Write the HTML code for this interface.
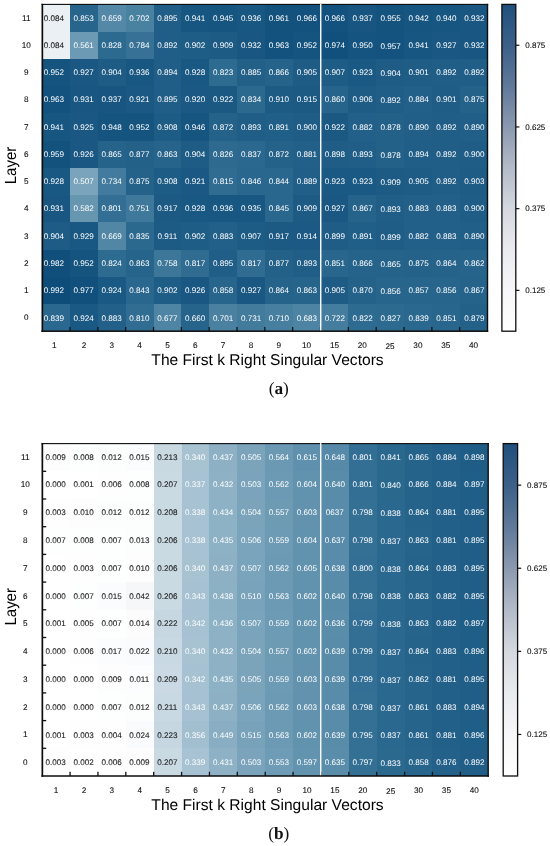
<!DOCTYPE html>
<html lang="en">
<head>
<meta charset="utf-8">
<title>Heatmaps of the first k right singular vectors per layer</title>
<style>
html,body{margin:0;padding:0;background:#fff;}
body{width:550px;height:846px;overflow:hidden;}
svg{display:block;}
text{font-family:"Liberation Sans",sans-serif;text-rendering:geometricPrecision;}
.v{font-size:8.1px;text-anchor:middle;}
.t{font-size:8.2px;text-anchor:middle;fill:#0a0a0a;stroke:#0a0a0a;stroke-width:0.08px;}
.c{font-size:8px;text-anchor:start;fill:#0a0a0a;stroke:#0a0a0a;stroke-width:0.08px;}
.ax{font-size:15.6px;text-anchor:middle;fill:#000;}
.k{stroke:#1c1c1c;stroke-width:0.1px;}
.ay{font-size:16.1px;}
.cap{font-family:"Liberation Serif","DejaVu Serif",serif;font-size:17.3px;text-anchor:middle;fill:#111;}
</style>
</head>
<body>
<svg width="550" height="846" viewBox="0 0 550 846">
<defs>
<linearGradient id="cb" x1="0" y1="1" x2="0" y2="0">
<stop offset="0" stop-color="#ffffff"/>
<stop offset="0.125" stop-color="#f7f7f9"/>
<stop offset="0.25" stop-color="#eaebef"/>
<stop offset="0.375" stop-color="#d4d8df"/>
<stop offset="0.5" stop-color="#b3bbc9"/>
<stop offset="0.625" stop-color="#8b99af"/>
<stop offset="0.75" stop-color="#60799a"/>
<stop offset="0.875" stop-color="#3c6089"/>
<stop offset="1" stop-color="#1f507d"/>
</linearGradient>
</defs>
<rect width="550" height="846" fill="#ffffff"/>
<g id="chart-a">
<rect x="42" y="4" width="28" height="28" fill="#eaf0f4"/>
<rect x="70" y="4" width="28" height="28" fill="#28658d"/>
<rect x="98" y="4" width="28" height="28" fill="#5488a7"/>
<rect x="126" y="4" width="28" height="28" fill="#4981a1"/>
<rect x="154" y="4" width="27" height="28" fill="#205e87"/>
<rect x="181" y="4" width="28" height="28" fill="#175681"/>
<rect x="209" y="4" width="28" height="28" fill="#165580"/>
<rect x="237" y="4" width="28" height="28" fill="#185782"/>
<rect x="265" y="4" width="28" height="28" fill="#14527e"/>
<rect x="293" y="4" width="28" height="28" fill="#13517e"/>
<rect x="321" y="4" width="27" height="28" fill="#13517e"/>
<rect x="348" y="4" width="28" height="28" fill="#185681"/>
<rect x="376" y="4" width="28" height="28" fill="#15537f"/>
<rect x="404" y="4" width="28" height="28" fill="#175581"/>
<rect x="432" y="4" width="28" height="28" fill="#175681"/>
<rect x="460" y="4" width="28" height="28" fill="#195782"/>
<rect x="42" y="32" width="28" height="27" fill="#eaf0f4"/>
<rect x="70" y="32" width="28" height="27" fill="#6c9ab4"/>
<rect x="98" y="32" width="28" height="27" fill="#2d6a90"/>
<rect x="126" y="32" width="28" height="27" fill="#377296"/>
<rect x="154" y="32" width="27" height="27" fill="#205e87"/>
<rect x="181" y="32" width="28" height="27" fill="#1e5d86"/>
<rect x="209" y="32" width="28" height="27" fill="#1d5b85"/>
<rect x="237" y="32" width="28" height="27" fill="#195782"/>
<rect x="265" y="32" width="28" height="27" fill="#13527e"/>
<rect x="293" y="32" width="28" height="27" fill="#15547f"/>
<rect x="321" y="32" width="27" height="27" fill="#11507c"/>
<rect x="348" y="32" width="28" height="27" fill="#155480"/>
<rect x="376" y="32" width="28" height="27" fill="#14537f"/>
<rect x="404" y="32" width="28" height="27" fill="#175681"/>
<rect x="432" y="32" width="28" height="27" fill="#1a5883"/>
<rect x="460" y="32" width="28" height="27" fill="#195782"/>
<rect x="42" y="59" width="28" height="27" fill="#15547f"/>
<rect x="70" y="59" width="28" height="27" fill="#1a5883"/>
<rect x="98" y="59" width="28" height="27" fill="#1e5c86"/>
<rect x="126" y="59" width="28" height="27" fill="#185782"/>
<rect x="154" y="59" width="27" height="27" fill="#205e87"/>
<rect x="181" y="59" width="28" height="27" fill="#195883"/>
<rect x="209" y="59" width="28" height="27" fill="#2e6b91"/>
<rect x="237" y="59" width="28" height="27" fill="#226088"/>
<rect x="265" y="59" width="28" height="27" fill="#25638b"/>
<rect x="293" y="59" width="28" height="27" fill="#1e5c86"/>
<rect x="321" y="59" width="27" height="27" fill="#1d5c85"/>
<rect x="348" y="59" width="28" height="27" fill="#1a5983"/>
<rect x="376" y="59" width="28" height="27" fill="#1e5c86"/>
<rect x="404" y="59" width="28" height="27" fill="#1f5d86"/>
<rect x="432" y="59" width="28" height="27" fill="#205e87"/>
<rect x="460" y="59" width="28" height="27" fill="#205e87"/>
<rect x="42" y="86" width="28" height="27" fill="#13527e"/>
<rect x="70" y="86" width="28" height="27" fill="#195782"/>
<rect x="98" y="86" width="28" height="27" fill="#185681"/>
<rect x="126" y="86" width="28" height="27" fill="#1b5984"/>
<rect x="154" y="86" width="27" height="27" fill="#205e87"/>
<rect x="181" y="86" width="28" height="27" fill="#1b5984"/>
<rect x="209" y="86" width="28" height="27" fill="#1b5983"/>
<rect x="237" y="86" width="28" height="27" fill="#2c698f"/>
<rect x="265" y="86" width="28" height="27" fill="#1d5b85"/>
<rect x="293" y="86" width="28" height="27" fill="#1c5a84"/>
<rect x="321" y="86" width="27" height="27" fill="#27648c"/>
<rect x="348" y="86" width="28" height="27" fill="#1e5c86"/>
<rect x="376" y="86" width="28" height="27" fill="#205e87"/>
<rect x="404" y="86" width="28" height="27" fill="#226089"/>
<rect x="432" y="86" width="28" height="27" fill="#1f5d86"/>
<rect x="460" y="86" width="28" height="27" fill="#24628a"/>
<rect x="42" y="113" width="28" height="28" fill="#175681"/>
<rect x="70" y="113" width="28" height="28" fill="#1a5883"/>
<rect x="98" y="113" width="28" height="28" fill="#165480"/>
<rect x="126" y="113" width="28" height="28" fill="#15547f"/>
<rect x="154" y="113" width="27" height="28" fill="#1d5c85"/>
<rect x="181" y="113" width="28" height="28" fill="#165580"/>
<rect x="209" y="113" width="28" height="28" fill="#24628a"/>
<rect x="237" y="113" width="28" height="28" fill="#205e87"/>
<rect x="265" y="113" width="28" height="28" fill="#205f88"/>
<rect x="293" y="113" width="28" height="28" fill="#1f5d86"/>
<rect x="321" y="113" width="27" height="28" fill="#1b5983"/>
<rect x="348" y="113" width="28" height="28" fill="#226089"/>
<rect x="376" y="113" width="28" height="28" fill="#236189"/>
<rect x="404" y="113" width="28" height="28" fill="#215f88"/>
<rect x="432" y="113" width="28" height="28" fill="#205e87"/>
<rect x="460" y="113" width="28" height="28" fill="#215f88"/>
<rect x="42" y="141" width="28" height="27" fill="#14527e"/>
<rect x="70" y="141" width="28" height="27" fill="#1a5883"/>
<rect x="98" y="141" width="28" height="27" fill="#26638b"/>
<rect x="126" y="141" width="28" height="27" fill="#236189"/>
<rect x="154" y="141" width="27" height="27" fill="#26648b"/>
<rect x="181" y="141" width="28" height="27" fill="#1e5c86"/>
<rect x="209" y="141" width="28" height="27" fill="#2e6a90"/>
<rect x="237" y="141" width="28" height="27" fill="#2b688f"/>
<rect x="265" y="141" width="28" height="27" fill="#24628a"/>
<rect x="293" y="141" width="28" height="27" fill="#226089"/>
<rect x="321" y="141" width="27" height="27" fill="#1f5d87"/>
<rect x="348" y="141" width="28" height="27" fill="#205e87"/>
<rect x="376" y="141" width="28" height="27" fill="#236189"/>
<rect x="404" y="141" width="28" height="27" fill="#205e87"/>
<rect x="432" y="141" width="28" height="27" fill="#205e87"/>
<rect x="460" y="141" width="28" height="27" fill="#1f5d86"/>
<rect x="42" y="168" width="28" height="27" fill="#195883"/>
<rect x="70" y="168" width="28" height="27" fill="#7aa4bb"/>
<rect x="98" y="168" width="28" height="27" fill="#427b9d"/>
<rect x="126" y="168" width="28" height="27" fill="#24628a"/>
<rect x="154" y="168" width="27" height="27" fill="#1d5c85"/>
<rect x="181" y="168" width="28" height="27" fill="#1b5984"/>
<rect x="209" y="168" width="28" height="27" fill="#306c92"/>
<rect x="237" y="168" width="28" height="27" fill="#29678e"/>
<rect x="265" y="168" width="28" height="27" fill="#2a678e"/>
<rect x="293" y="168" width="28" height="27" fill="#215f88"/>
<rect x="321" y="168" width="27" height="27" fill="#1a5983"/>
<rect x="348" y="168" width="28" height="27" fill="#1a5983"/>
<rect x="376" y="168" width="28" height="27" fill="#1d5b85"/>
<rect x="404" y="168" width="28" height="27" fill="#1e5c86"/>
<rect x="432" y="168" width="28" height="27" fill="#205e87"/>
<rect x="460" y="168" width="28" height="27" fill="#1e5c86"/>
<rect x="42" y="195" width="28" height="27" fill="#195782"/>
<rect x="70" y="195" width="28" height="27" fill="#6796b1"/>
<rect x="98" y="195" width="28" height="27" fill="#336f94"/>
<rect x="126" y="195" width="28" height="27" fill="#3e789a"/>
<rect x="154" y="195" width="27" height="27" fill="#1c5a84"/>
<rect x="181" y="195" width="28" height="27" fill="#195883"/>
<rect x="209" y="195" width="28" height="27" fill="#185782"/>
<rect x="237" y="195" width="28" height="27" fill="#185782"/>
<rect x="265" y="195" width="28" height="27" fill="#2a678e"/>
<rect x="293" y="195" width="28" height="27" fill="#1d5b85"/>
<rect x="321" y="195" width="27" height="27" fill="#1a5883"/>
<rect x="348" y="195" width="28" height="27" fill="#25638b"/>
<rect x="376" y="195" width="28" height="27" fill="#205e87"/>
<rect x="404" y="195" width="28" height="27" fill="#226089"/>
<rect x="432" y="195" width="28" height="27" fill="#226089"/>
<rect x="460" y="195" width="28" height="27" fill="#1f5d86"/>
<rect x="42" y="222" width="28" height="28" fill="#1e5c86"/>
<rect x="70" y="222" width="28" height="28" fill="#195883"/>
<rect x="98" y="222" width="28" height="28" fill="#5187a5"/>
<rect x="126" y="222" width="28" height="28" fill="#2c698f"/>
<rect x="154" y="222" width="27" height="28" fill="#1d5b85"/>
<rect x="181" y="222" width="28" height="28" fill="#1e5d86"/>
<rect x="209" y="222" width="28" height="28" fill="#226089"/>
<rect x="237" y="222" width="28" height="28" fill="#1d5c85"/>
<rect x="265" y="222" width="28" height="28" fill="#1c5a84"/>
<rect x="293" y="222" width="28" height="28" fill="#1c5a85"/>
<rect x="321" y="222" width="27" height="28" fill="#1f5d87"/>
<rect x="348" y="222" width="28" height="28" fill="#205f88"/>
<rect x="376" y="222" width="28" height="28" fill="#1f5d87"/>
<rect x="404" y="222" width="28" height="28" fill="#226089"/>
<rect x="432" y="222" width="28" height="28" fill="#226089"/>
<rect x="460" y="222" width="28" height="28" fill="#215f88"/>
<rect x="42" y="250" width="28" height="27" fill="#104e7b"/>
<rect x="70" y="250" width="28" height="27" fill="#15547f"/>
<rect x="98" y="250" width="28" height="27" fill="#2e6b91"/>
<rect x="126" y="250" width="28" height="27" fill="#26648b"/>
<rect x="154" y="250" width="27" height="27" fill="#3c7799"/>
<rect x="181" y="250" width="28" height="27" fill="#306c92"/>
<rect x="209" y="250" width="28" height="27" fill="#205e87"/>
<rect x="237" y="250" width="28" height="27" fill="#306c92"/>
<rect x="265" y="250" width="28" height="27" fill="#236189"/>
<rect x="293" y="250" width="28" height="27" fill="#205e87"/>
<rect x="321" y="250" width="27" height="27" fill="#28668d"/>
<rect x="348" y="250" width="28" height="27" fill="#25638b"/>
<rect x="376" y="250" width="28" height="27" fill="#26638b"/>
<rect x="404" y="250" width="28" height="27" fill="#24628a"/>
<rect x="432" y="250" width="28" height="27" fill="#26638b"/>
<rect x="460" y="250" width="28" height="27" fill="#26648b"/>
<rect x="42" y="277" width="28" height="27" fill="#0e4c7a"/>
<rect x="70" y="277" width="28" height="27" fill="#114f7c"/>
<rect x="98" y="277" width="28" height="27" fill="#1a5983"/>
<rect x="126" y="277" width="28" height="27" fill="#2a678e"/>
<rect x="154" y="277" width="27" height="27" fill="#1e5d86"/>
<rect x="181" y="277" width="28" height="27" fill="#1a5883"/>
<rect x="209" y="277" width="28" height="27" fill="#27658c"/>
<rect x="237" y="277" width="28" height="27" fill="#1a5883"/>
<rect x="265" y="277" width="28" height="27" fill="#26638b"/>
<rect x="293" y="277" width="28" height="27" fill="#26648b"/>
<rect x="321" y="277" width="27" height="27" fill="#1e5c86"/>
<rect x="348" y="277" width="28" height="27" fill="#25628a"/>
<rect x="376" y="277" width="28" height="27" fill="#27658c"/>
<rect x="404" y="277" width="28" height="27" fill="#27658c"/>
<rect x="432" y="277" width="28" height="27" fill="#27658c"/>
<rect x="460" y="277" width="28" height="27" fill="#25638b"/>
<rect x="42" y="304" width="28" height="27" fill="#2b688f"/>
<rect x="70" y="304" width="28" height="27" fill="#1a5983"/>
<rect x="98" y="304" width="28" height="27" fill="#226089"/>
<rect x="126" y="304" width="28" height="27" fill="#316d92"/>
<rect x="154" y="304" width="27" height="27" fill="#4f85a4"/>
<rect x="181" y="304" width="28" height="27" fill="#27648c"/>
<rect x="209" y="304" width="28" height="27" fill="#4a81a1"/>
<rect x="237" y="304" width="28" height="27" fill="#437b9d"/>
<rect x="265" y="304" width="28" height="27" fill="#477fa0"/>
<rect x="293" y="304" width="28" height="27" fill="#4e84a3"/>
<rect x="321" y="304" width="27" height="27" fill="#457d9e"/>
<rect x="348" y="304" width="28" height="27" fill="#2e6b91"/>
<rect x="376" y="304" width="28" height="27" fill="#2d6a90"/>
<rect x="404" y="304" width="28" height="27" fill="#2b688f"/>
<rect x="432" y="304" width="28" height="27" fill="#28668d"/>
<rect x="460" y="304" width="28" height="27" fill="#236189"/>
<text class="v k" x="53.8" y="20.6" fill="#1c1c1c">0.084</text>
<text class="v" x="83.61" y="20.6" fill="#ffffff">0.853</text>
<text class="v" x="111.52" y="20.6" fill="#ffffff">0.659</text>
<text class="v" x="139.43" y="20.6" fill="#ffffff">0.702</text>
<text class="v" x="167.34" y="20.6" fill="#ffffff">0.895</text>
<text class="v" x="195.25" y="20.6" fill="#ffffff">0.941</text>
<text class="v" x="223.16" y="20.6" fill="#ffffff">0.945</text>
<text class="v" x="251.07" y="20.6" fill="#ffffff">0.936</text>
<text class="v" x="278.98" y="20.6" fill="#ffffff">0.961</text>
<text class="v" x="306.89" y="20.6" fill="#ffffff">0.966</text>
<text class="v" x="334.8" y="20.6" fill="#ffffff">0.966</text>
<text class="v" x="362.71" y="20.6" fill="#ffffff">0.937</text>
<text class="v" x="390.62" y="21.4" fill="#ffffff">0.955</text>
<text class="v" x="418.53" y="20.6" fill="#ffffff">0.942</text>
<text class="v" x="446.44" y="20.6" fill="#ffffff">0.940</text>
<text class="v" x="474.35" y="20.6" fill="#ffffff">0.932</text>
<text class="v k" x="53.8" y="47.87" fill="#1c1c1c">0.084</text>
<text class="v" x="83.61" y="47.87" fill="#ffffff">0.561</text>
<text class="v" x="111.52" y="47.87" fill="#ffffff">0.828</text>
<text class="v" x="139.43" y="47.87" fill="#ffffff">0.784</text>
<text class="v" x="167.34" y="47.87" fill="#ffffff">0.892</text>
<text class="v" x="195.25" y="47.87" fill="#ffffff">0.902</text>
<text class="v" x="223.16" y="47.87" fill="#ffffff">0.909</text>
<text class="v" x="251.07" y="47.87" fill="#ffffff">0.932</text>
<text class="v" x="278.98" y="47.87" fill="#ffffff">0.963</text>
<text class="v" x="306.89" y="47.87" fill="#ffffff">0.952</text>
<text class="v" x="334.8" y="47.87" fill="#ffffff">0.974</text>
<text class="v" x="362.71" y="47.87" fill="#ffffff">0.950</text>
<text class="v" x="390.62" y="48.67" fill="#ffffff">0.957</text>
<text class="v" x="418.53" y="47.87" fill="#ffffff">0.941</text>
<text class="v" x="446.44" y="47.87" fill="#ffffff">0.927</text>
<text class="v" x="474.35" y="47.87" fill="#ffffff">0.932</text>
<text class="v" x="53.8" y="75.14" fill="#ffffff">0.952</text>
<text class="v" x="83.61" y="75.14" fill="#ffffff">0.927</text>
<text class="v" x="111.52" y="75.14" fill="#ffffff">0.904</text>
<text class="v" x="139.43" y="75.14" fill="#ffffff">0.936</text>
<text class="v" x="167.34" y="75.14" fill="#ffffff">0.894</text>
<text class="v" x="195.25" y="75.14" fill="#ffffff">0.928</text>
<text class="v" x="223.16" y="75.14" fill="#ffffff">0.823</text>
<text class="v" x="251.07" y="75.14" fill="#ffffff">0.885</text>
<text class="v" x="278.98" y="75.14" fill="#ffffff">0.866</text>
<text class="v" x="306.89" y="75.14" fill="#ffffff">0.905</text>
<text class="v" x="334.8" y="75.14" fill="#ffffff">0.907</text>
<text class="v" x="362.71" y="75.14" fill="#ffffff">0.923</text>
<text class="v" x="390.62" y="75.94" fill="#ffffff">0.904</text>
<text class="v" x="418.53" y="75.14" fill="#ffffff">0.901</text>
<text class="v" x="446.44" y="75.14" fill="#ffffff">0.892</text>
<text class="v" x="474.35" y="75.14" fill="#ffffff">0.892</text>
<text class="v" x="53.8" y="102.41" fill="#ffffff">0.963</text>
<text class="v" x="83.61" y="102.41" fill="#ffffff">0.931</text>
<text class="v" x="111.52" y="102.41" fill="#ffffff">0.937</text>
<text class="v" x="139.43" y="102.41" fill="#ffffff">0.921</text>
<text class="v" x="167.34" y="102.41" fill="#ffffff">0.895</text>
<text class="v" x="195.25" y="102.41" fill="#ffffff">0.920</text>
<text class="v" x="223.16" y="102.41" fill="#ffffff">0.922</text>
<text class="v" x="251.07" y="102.41" fill="#ffffff">0.834</text>
<text class="v" x="278.98" y="102.41" fill="#ffffff">0.910</text>
<text class="v" x="306.89" y="102.41" fill="#ffffff">0.915</text>
<text class="v" x="334.8" y="102.41" fill="#ffffff">0.860</text>
<text class="v" x="362.71" y="102.41" fill="#ffffff">0.906</text>
<text class="v" x="390.62" y="103.21" fill="#ffffff">0.892</text>
<text class="v" x="418.53" y="102.41" fill="#ffffff">0.884</text>
<text class="v" x="446.44" y="102.41" fill="#ffffff">0.901</text>
<text class="v" x="474.35" y="102.41" fill="#ffffff">0.875</text>
<text class="v" x="53.8" y="129.68" fill="#ffffff">0.941</text>
<text class="v" x="83.61" y="129.68" fill="#ffffff">0.925</text>
<text class="v" x="111.52" y="129.68" fill="#ffffff">0.948</text>
<text class="v" x="139.43" y="129.68" fill="#ffffff">0.952</text>
<text class="v" x="167.34" y="129.68" fill="#ffffff">0.908</text>
<text class="v" x="195.25" y="129.68" fill="#ffffff">0.946</text>
<text class="v" x="223.16" y="129.68" fill="#ffffff">0.872</text>
<text class="v" x="251.07" y="129.68" fill="#ffffff">0.893</text>
<text class="v" x="278.98" y="129.68" fill="#ffffff">0.891</text>
<text class="v" x="306.89" y="129.68" fill="#ffffff">0.900</text>
<text class="v" x="334.8" y="129.68" fill="#ffffff">0.922</text>
<text class="v" x="362.71" y="129.68" fill="#ffffff">0.882</text>
<text class="v" x="390.62" y="130.48" fill="#ffffff">0.878</text>
<text class="v" x="418.53" y="129.68" fill="#ffffff">0.890</text>
<text class="v" x="446.44" y="129.68" fill="#ffffff">0.892</text>
<text class="v" x="474.35" y="129.68" fill="#ffffff">0.890</text>
<text class="v" x="53.8" y="156.95" fill="#ffffff">0.959</text>
<text class="v" x="83.61" y="156.95" fill="#ffffff">0.926</text>
<text class="v" x="111.52" y="156.95" fill="#ffffff">0.865</text>
<text class="v" x="139.43" y="156.95" fill="#ffffff">0.877</text>
<text class="v" x="167.34" y="156.95" fill="#ffffff">0.863</text>
<text class="v" x="195.25" y="156.95" fill="#ffffff">0.904</text>
<text class="v" x="223.16" y="156.95" fill="#ffffff">0.826</text>
<text class="v" x="251.07" y="156.95" fill="#ffffff">0.837</text>
<text class="v" x="278.98" y="156.95" fill="#ffffff">0.872</text>
<text class="v" x="306.89" y="156.95" fill="#ffffff">0.881</text>
<text class="v" x="334.8" y="156.95" fill="#ffffff">0.898</text>
<text class="v" x="362.71" y="156.95" fill="#ffffff">0.893</text>
<text class="v" x="390.62" y="157.75" fill="#ffffff">0.878</text>
<text class="v" x="418.53" y="156.95" fill="#ffffff">0.894</text>
<text class="v" x="446.44" y="156.95" fill="#ffffff">0.892</text>
<text class="v" x="474.35" y="156.95" fill="#ffffff">0.900</text>
<text class="v" x="53.8" y="184.22" fill="#ffffff">0.928</text>
<text class="v" x="83.61" y="184.22" fill="#ffffff">0.507</text>
<text class="v" x="111.52" y="184.22" fill="#ffffff">0.734</text>
<text class="v" x="139.43" y="184.22" fill="#ffffff">0.875</text>
<text class="v" x="167.34" y="184.22" fill="#ffffff">0.908</text>
<text class="v" x="195.25" y="184.22" fill="#ffffff">0.921</text>
<text class="v" x="223.16" y="184.22" fill="#ffffff">0.815</text>
<text class="v" x="251.07" y="184.22" fill="#ffffff">0.846</text>
<text class="v" x="278.98" y="184.22" fill="#ffffff">0.844</text>
<text class="v" x="306.89" y="184.22" fill="#ffffff">0.889</text>
<text class="v" x="334.8" y="184.22" fill="#ffffff">0.923</text>
<text class="v" x="362.71" y="184.22" fill="#ffffff">0.923</text>
<text class="v" x="390.62" y="185.02" fill="#ffffff">0.909</text>
<text class="v" x="418.53" y="184.22" fill="#ffffff">0.905</text>
<text class="v" x="446.44" y="184.22" fill="#ffffff">0.892</text>
<text class="v" x="474.35" y="184.22" fill="#ffffff">0.903</text>
<text class="v" x="53.8" y="211.49" fill="#ffffff">0.931</text>
<text class="v" x="83.61" y="211.49" fill="#ffffff">0.582</text>
<text class="v" x="111.52" y="211.49" fill="#ffffff">0.801</text>
<text class="v" x="139.43" y="211.49" fill="#ffffff">0.751</text>
<text class="v" x="167.34" y="211.49" fill="#ffffff">0.917</text>
<text class="v" x="195.25" y="211.49" fill="#ffffff">0.928</text>
<text class="v" x="223.16" y="211.49" fill="#ffffff">0.936</text>
<text class="v" x="251.07" y="211.49" fill="#ffffff">0.935</text>
<text class="v" x="278.98" y="211.49" fill="#ffffff">0.845</text>
<text class="v" x="306.89" y="211.49" fill="#ffffff">0.909</text>
<text class="v" x="334.8" y="211.49" fill="#ffffff">0.927</text>
<text class="v" x="362.71" y="211.49" fill="#ffffff">0.867</text>
<text class="v" x="390.62" y="212.29" fill="#ffffff">0.893</text>
<text class="v" x="418.53" y="211.49" fill="#ffffff">0.883</text>
<text class="v" x="446.44" y="211.49" fill="#ffffff">0.883</text>
<text class="v" x="474.35" y="211.49" fill="#ffffff">0.900</text>
<text class="v" x="53.8" y="238.76" fill="#ffffff">0.904</text>
<text class="v" x="83.61" y="238.76" fill="#ffffff">0.929</text>
<text class="v" x="111.52" y="238.76" fill="#ffffff">0.669</text>
<text class="v" x="139.43" y="238.76" fill="#ffffff">0.835</text>
<text class="v" x="167.34" y="238.76" fill="#ffffff">0.911</text>
<text class="v" x="195.25" y="238.76" fill="#ffffff">0.902</text>
<text class="v" x="223.16" y="238.76" fill="#ffffff">0.883</text>
<text class="v" x="251.07" y="238.76" fill="#ffffff">0.907</text>
<text class="v" x="278.98" y="238.76" fill="#ffffff">0.917</text>
<text class="v" x="306.89" y="238.76" fill="#ffffff">0.914</text>
<text class="v" x="334.8" y="238.76" fill="#ffffff">0.899</text>
<text class="v" x="362.71" y="238.76" fill="#ffffff">0.891</text>
<text class="v" x="390.62" y="239.56" fill="#ffffff">0.899</text>
<text class="v" x="418.53" y="238.76" fill="#ffffff">0.882</text>
<text class="v" x="446.44" y="238.76" fill="#ffffff">0.883</text>
<text class="v" x="474.35" y="238.76" fill="#ffffff">0.890</text>
<text class="v" x="53.8" y="266.03" fill="#ffffff">0.982</text>
<text class="v" x="83.61" y="266.03" fill="#ffffff">0.952</text>
<text class="v" x="111.52" y="266.03" fill="#ffffff">0.824</text>
<text class="v" x="139.43" y="266.03" fill="#ffffff">0.863</text>
<text class="v" x="167.34" y="266.03" fill="#ffffff">0.758</text>
<text class="v" x="195.25" y="266.03" fill="#ffffff">0.817</text>
<text class="v" x="223.16" y="266.03" fill="#ffffff">0.895</text>
<text class="v" x="251.07" y="266.03" fill="#ffffff">0.817</text>
<text class="v" x="278.98" y="266.03" fill="#ffffff">0.877</text>
<text class="v" x="306.89" y="266.03" fill="#ffffff">0.893</text>
<text class="v" x="334.8" y="266.03" fill="#ffffff">0.851</text>
<text class="v" x="362.71" y="266.03" fill="#ffffff">0.866</text>
<text class="v" x="390.62" y="266.83" fill="#ffffff">0.865</text>
<text class="v" x="418.53" y="266.03" fill="#ffffff">0.875</text>
<text class="v" x="446.44" y="266.03" fill="#ffffff">0.864</text>
<text class="v" x="474.35" y="266.03" fill="#ffffff">0.862</text>
<text class="v" x="53.8" y="293.3" fill="#ffffff">0.992</text>
<text class="v" x="83.61" y="293.3" fill="#ffffff">0.977</text>
<text class="v" x="111.52" y="293.3" fill="#ffffff">0.924</text>
<text class="v" x="139.43" y="293.3" fill="#ffffff">0.843</text>
<text class="v" x="167.34" y="293.3" fill="#ffffff">0.902</text>
<text class="v" x="195.25" y="293.3" fill="#ffffff">0.926</text>
<text class="v" x="223.16" y="293.3" fill="#ffffff">0.858</text>
<text class="v" x="251.07" y="293.3" fill="#ffffff">0.927</text>
<text class="v" x="278.98" y="293.3" fill="#ffffff">0.864</text>
<text class="v" x="306.89" y="293.3" fill="#ffffff">0.863</text>
<text class="v" x="334.8" y="293.3" fill="#ffffff">0.905</text>
<text class="v" x="362.71" y="293.3" fill="#ffffff">0.870</text>
<text class="v" x="390.62" y="294.1" fill="#ffffff">0.856</text>
<text class="v" x="418.53" y="293.3" fill="#ffffff">0.857</text>
<text class="v" x="446.44" y="293.3" fill="#ffffff">0.856</text>
<text class="v" x="474.35" y="293.3" fill="#ffffff">0.867</text>
<text class="v" x="53.8" y="320.57" fill="#ffffff">0.839</text>
<text class="v" x="83.61" y="320.57" fill="#ffffff">0.924</text>
<text class="v" x="111.52" y="320.57" fill="#ffffff">0.883</text>
<text class="v" x="139.43" y="320.57" fill="#ffffff">0.810</text>
<text class="v" x="167.34" y="320.57" fill="#ffffff">0.677</text>
<text class="v" x="195.25" y="320.57" fill="#ffffff">0.660</text>
<text class="v" x="223.16" y="320.57" fill="#ffffff">0.701</text>
<text class="v" x="251.07" y="320.57" fill="#ffffff">0.731</text>
<text class="v" x="278.98" y="320.57" fill="#ffffff">0.710</text>
<text class="v" x="306.89" y="320.57" fill="#ffffff">0.683</text>
<text class="v" x="334.8" y="320.57" fill="#ffffff">0.722</text>
<text class="v" x="362.71" y="320.57" fill="#ffffff">0.822</text>
<text class="v" x="390.62" y="321.37" fill="#ffffff">0.827</text>
<text class="v" x="418.53" y="320.57" fill="#ffffff">0.839</text>
<text class="v" x="446.44" y="320.57" fill="#ffffff">0.851</text>
<text class="v" x="474.35" y="320.57" fill="#ffffff">0.879</text>
<rect x="69.38" y="327" width="1.3" height="4.2" fill="#111"/>
<rect x="97.21" y="327" width="1.3" height="4.2" fill="#111"/>
<rect x="125.04" y="327" width="1.3" height="4.2" fill="#111"/>
<rect x="152.88" y="327" width="1.3" height="4.2" fill="#111"/>
<rect x="180.71" y="327" width="1.3" height="4.2" fill="#111"/>
<rect x="208.54" y="327" width="1.3" height="4.2" fill="#111"/>
<rect x="236.37" y="327" width="1.3" height="4.2" fill="#111"/>
<rect x="264.2" y="327" width="1.3" height="4.2" fill="#111"/>
<rect x="292.03" y="327" width="1.3" height="4.2" fill="#111"/>
<rect x="319.86" y="327" width="1.3" height="4.2" fill="#111"/>
<rect x="347.69" y="327" width="1.3" height="4.2" fill="#111"/>
<rect x="375.53" y="327" width="1.3" height="4.2" fill="#111"/>
<rect x="403.36" y="327" width="1.3" height="4.2" fill="#111"/>
<rect x="431.19" y="327" width="1.3" height="4.2" fill="#111"/>
<rect x="459.02" y="327" width="1.3" height="4.2" fill="#111"/>
<rect x="41.4" y="3.85" width="446.8" height="1.1" fill="#0d0d0d"/>
<rect x="41.4" y="330.45" width="446.8" height="1.5" fill="#0d0d0d"/>
<rect x="41.5" y="3.85" width="1.7" height="328.1" fill="#0d0d0d"/>
<rect x="486.8" y="3.85" width="1.4" height="328.1" fill="#0d0d0d"/>
<rect x="320" y="3.85" width="1.45" height="326.6" fill="#f8f5f5"/>
<text class="t" x="54.22" y="347.9">1</text>
<text class="t" x="83.95" y="347.9">2</text>
<text class="t" x="111.78" y="347.9">3</text>
<text class="t" x="139.61" y="347.9">4</text>
<text class="t" x="167.44" y="347.9">5</text>
<text class="t" x="195.27" y="347.9">6</text>
<text class="t" x="223.1" y="347.9">7</text>
<text class="t" x="250.93" y="347.9">8</text>
<text class="t" x="278.77" y="347.9">9</text>
<text class="t" x="306.6" y="347.9">10</text>
<text class="t" x="334.43" y="347.9">15</text>
<text class="t" x="362.26" y="347.9">20</text>
<text class="t" x="390.09" y="348.7">25</text>
<text class="t" x="417.92" y="347.9">30</text>
<text class="t" x="445.75" y="347.9">35</text>
<text class="t" x="473.58" y="347.9">40</text>
<text class="t" x="26.2" y="20.5">11</text>
<text class="t" x="26.2" y="47.77">10</text>
<text class="t" x="26.2" y="75.04">9</text>
<text class="t" x="26.2" y="102.31">8</text>
<text class="t" x="26.2" y="129.58">7</text>
<text class="t" x="26.2" y="156.85">6</text>
<text class="t" x="26.2" y="184.12">5</text>
<text class="t" x="26.2" y="211.39">4</text>
<text class="t" x="26.2" y="238.66">3</text>
<text class="t" x="26.2" y="265.93">2</text>
<text class="t" x="26.2" y="293.2">1</text>
<text class="t" x="26.2" y="320.47">0</text>
<text class="ax" x="267.5" y="364.8">The First k Right Singular Vectors</text>
<text class="ax ay" transform="translate(16.3 165.5) rotate(-90) scale(0.93 1)" x="0" y="0">Layer</text>
<rect x="501.9" y="4.4" width="13.9" height="326.8" fill="url(#cb)" stroke="#0d0d0d" stroke-width="1.3"/>
<rect x="515.8" y="44.65" width="3.6" height="1.2" fill="#111"/>
<text class="c" x="525.3" y="48.05">0.875</text>
<rect x="515.8" y="126.35" width="3.6" height="1.2" fill="#111"/>
<text class="c" x="525.3" y="129.75">0.625</text>
<rect x="515.8" y="208.05" width="3.6" height="1.2" fill="#111"/>
<text class="c" x="525.3" y="211.45">0.375</text>
<rect x="515.8" y="289.75" width="3.6" height="1.2" fill="#111"/>
<text class="c" x="525.3" y="293.15">0.125</text>
<text class="cap" x="278.8" y="394">(<tspan font-weight="bold">a</tspan>)</text>
</g>
<g id="chart-b">
<rect x="42" y="444" width="28" height="27" fill="#fdfdfe"/>
<rect x="70" y="444" width="28" height="27" fill="#fdfefe"/>
<rect x="98" y="444" width="28" height="27" fill="#fcfdfd"/>
<rect x="126" y="444" width="28" height="27" fill="#fbfcfd"/>
<rect x="154" y="444" width="28" height="27" fill="#c9d9e2"/>
<rect x="182" y="444" width="27" height="27" fill="#a7c2d1"/>
<rect x="209" y="444" width="28" height="27" fill="#8db0c4"/>
<rect x="237" y="444" width="28" height="27" fill="#7ba4bb"/>
<rect x="265" y="444" width="28" height="27" fill="#6b99b3"/>
<rect x="293" y="444" width="28" height="27" fill="#5f90ad"/>
<rect x="321" y="444" width="28" height="27" fill="#568aa8"/>
<rect x="349" y="444" width="28" height="27" fill="#336f94"/>
<rect x="377" y="444" width="28" height="27" fill="#2a688e"/>
<rect x="405" y="444" width="27" height="27" fill="#26638b"/>
<rect x="432" y="444" width="28" height="27" fill="#226089"/>
<rect x="460" y="444" width="28" height="27" fill="#1f5d87"/>
<rect x="42" y="471" width="28" height="28" fill="#ffffff"/>
<rect x="70" y="471" width="28" height="28" fill="#ffffff"/>
<rect x="98" y="471" width="28" height="28" fill="#fefefe"/>
<rect x="126" y="471" width="28" height="28" fill="#fdfefe"/>
<rect x="154" y="471" width="28" height="28" fill="#cadae3"/>
<rect x="182" y="471" width="27" height="28" fill="#a7c2d2"/>
<rect x="209" y="471" width="28" height="28" fill="#8eb1c5"/>
<rect x="237" y="471" width="28" height="28" fill="#7ba4bc"/>
<rect x="265" y="471" width="28" height="28" fill="#6c9ab4"/>
<rect x="293" y="471" width="28" height="28" fill="#6192ae"/>
<rect x="321" y="471" width="28" height="28" fill="#588ca9"/>
<rect x="349" y="471" width="28" height="28" fill="#336f94"/>
<rect x="377" y="471" width="28" height="28" fill="#2b688e"/>
<rect x="405" y="471" width="27" height="28" fill="#25638b"/>
<rect x="432" y="471" width="28" height="28" fill="#226089"/>
<rect x="460" y="471" width="28" height="28" fill="#1f5e87"/>
<rect x="42" y="499" width="28" height="28" fill="#fefeff"/>
<rect x="70" y="499" width="28" height="28" fill="#fdfdfe"/>
<rect x="98" y="499" width="28" height="28" fill="#fcfdfd"/>
<rect x="126" y="499" width="28" height="28" fill="#fcfdfd"/>
<rect x="154" y="499" width="28" height="28" fill="#cadae3"/>
<rect x="182" y="499" width="27" height="28" fill="#a7c2d2"/>
<rect x="209" y="499" width="28" height="28" fill="#8db1c5"/>
<rect x="237" y="499" width="28" height="28" fill="#7ba4bb"/>
<rect x="265" y="499" width="28" height="28" fill="#6d9bb4"/>
<rect x="293" y="499" width="28" height="28" fill="#6292ae"/>
<rect x="321" y="499" width="28" height="28" fill="#598caa"/>
<rect x="349" y="499" width="28" height="28" fill="#346f94"/>
<rect x="377" y="499" width="28" height="28" fill="#2b688f"/>
<rect x="405" y="499" width="27" height="28" fill="#26638b"/>
<rect x="432" y="499" width="28" height="28" fill="#226089"/>
<rect x="460" y="499" width="28" height="28" fill="#205e87"/>
<rect x="42" y="527" width="28" height="27" fill="#fdfefe"/>
<rect x="70" y="527" width="28" height="27" fill="#fdfefe"/>
<rect x="98" y="527" width="28" height="27" fill="#fdfefe"/>
<rect x="126" y="527" width="28" height="27" fill="#fcfdfd"/>
<rect x="154" y="527" width="28" height="27" fill="#cadae3"/>
<rect x="182" y="527" width="27" height="27" fill="#a7c2d2"/>
<rect x="209" y="527" width="28" height="27" fill="#8db1c5"/>
<rect x="237" y="527" width="28" height="27" fill="#7aa4bb"/>
<rect x="265" y="527" width="28" height="27" fill="#6d9ab4"/>
<rect x="293" y="527" width="28" height="27" fill="#6192ae"/>
<rect x="321" y="527" width="28" height="27" fill="#598caa"/>
<rect x="349" y="527" width="28" height="27" fill="#346f94"/>
<rect x="377" y="527" width="28" height="27" fill="#2b688f"/>
<rect x="405" y="527" width="27" height="27" fill="#26648b"/>
<rect x="432" y="527" width="28" height="27" fill="#226089"/>
<rect x="460" y="527" width="28" height="27" fill="#205e87"/>
<rect x="42" y="554" width="28" height="28" fill="#ffffff"/>
<rect x="70" y="554" width="28" height="28" fill="#fefeff"/>
<rect x="98" y="554" width="28" height="28" fill="#fdfefe"/>
<rect x="126" y="554" width="28" height="28" fill="#fdfdfe"/>
<rect x="154" y="554" width="28" height="28" fill="#cadae3"/>
<rect x="182" y="554" width="27" height="28" fill="#a7c2d1"/>
<rect x="209" y="554" width="28" height="28" fill="#8db0c4"/>
<rect x="237" y="554" width="28" height="28" fill="#7aa4bb"/>
<rect x="265" y="554" width="28" height="28" fill="#6c9ab4"/>
<rect x="293" y="554" width="28" height="28" fill="#6192ae"/>
<rect x="321" y="554" width="28" height="28" fill="#598caa"/>
<rect x="349" y="554" width="28" height="28" fill="#336f94"/>
<rect x="377" y="554" width="28" height="28" fill="#2b688f"/>
<rect x="405" y="554" width="27" height="28" fill="#26638b"/>
<rect x="432" y="554" width="28" height="28" fill="#226089"/>
<rect x="460" y="554" width="28" height="28" fill="#205e87"/>
<rect x="42" y="582" width="28" height="28" fill="#ffffff"/>
<rect x="70" y="582" width="28" height="28" fill="#fdfefe"/>
<rect x="98" y="582" width="28" height="28" fill="#fbfcfd"/>
<rect x="126" y="582" width="28" height="28" fill="#f5f7f9"/>
<rect x="154" y="582" width="28" height="28" fill="#cadae3"/>
<rect x="182" y="582" width="27" height="28" fill="#a6c1d1"/>
<rect x="209" y="582" width="28" height="28" fill="#8cb0c4"/>
<rect x="237" y="582" width="28" height="28" fill="#79a3bb"/>
<rect x="265" y="582" width="28" height="28" fill="#6c9ab4"/>
<rect x="293" y="582" width="28" height="28" fill="#6293ae"/>
<rect x="321" y="582" width="28" height="28" fill="#588ca9"/>
<rect x="349" y="582" width="28" height="28" fill="#346f94"/>
<rect x="377" y="582" width="28" height="28" fill="#2b688f"/>
<rect x="405" y="582" width="27" height="28" fill="#26648b"/>
<rect x="432" y="582" width="28" height="28" fill="#226089"/>
<rect x="460" y="582" width="28" height="28" fill="#205e87"/>
<rect x="42" y="610" width="28" height="28" fill="#ffffff"/>
<rect x="70" y="610" width="28" height="28" fill="#fefefe"/>
<rect x="98" y="610" width="28" height="28" fill="#fdfefe"/>
<rect x="126" y="610" width="28" height="28" fill="#fcfcfd"/>
<rect x="154" y="610" width="28" height="28" fill="#c6d7e1"/>
<rect x="182" y="610" width="27" height="28" fill="#a6c1d1"/>
<rect x="209" y="610" width="28" height="28" fill="#8db1c5"/>
<rect x="237" y="610" width="28" height="28" fill="#7aa4bb"/>
<rect x="265" y="610" width="28" height="28" fill="#6d9ab4"/>
<rect x="293" y="610" width="28" height="28" fill="#6293ae"/>
<rect x="321" y="610" width="28" height="28" fill="#598daa"/>
<rect x="349" y="610" width="28" height="28" fill="#336f94"/>
<rect x="377" y="610" width="28" height="28" fill="#2b688f"/>
<rect x="405" y="610" width="27" height="28" fill="#26648b"/>
<rect x="432" y="610" width="28" height="28" fill="#226089"/>
<rect x="460" y="610" width="28" height="28" fill="#1f5e87"/>
<rect x="42" y="638" width="28" height="27" fill="#ffffff"/>
<rect x="70" y="638" width="28" height="27" fill="#fefefe"/>
<rect x="98" y="638" width="28" height="27" fill="#fbfcfd"/>
<rect x="126" y="638" width="28" height="27" fill="#fafbfc"/>
<rect x="154" y="638" width="28" height="27" fill="#c9d9e3"/>
<rect x="182" y="638" width="27" height="27" fill="#a7c2d1"/>
<rect x="209" y="638" width="28" height="27" fill="#8eb1c5"/>
<rect x="237" y="638" width="28" height="27" fill="#7ba4bb"/>
<rect x="265" y="638" width="28" height="27" fill="#6d9bb4"/>
<rect x="293" y="638" width="28" height="27" fill="#6293ae"/>
<rect x="321" y="638" width="28" height="27" fill="#598ca9"/>
<rect x="349" y="638" width="28" height="27" fill="#336f94"/>
<rect x="377" y="638" width="28" height="27" fill="#2b688f"/>
<rect x="405" y="638" width="27" height="27" fill="#26638b"/>
<rect x="432" y="638" width="28" height="27" fill="#226089"/>
<rect x="460" y="638" width="28" height="27" fill="#1f5e87"/>
<rect x="42" y="665" width="28" height="28" fill="#ffffff"/>
<rect x="70" y="665" width="28" height="28" fill="#ffffff"/>
<rect x="98" y="665" width="28" height="28" fill="#fdfdfe"/>
<rect x="126" y="665" width="28" height="28" fill="#fcfdfe"/>
<rect x="154" y="665" width="28" height="28" fill="#cad9e3"/>
<rect x="182" y="665" width="27" height="28" fill="#a6c1d1"/>
<rect x="209" y="665" width="28" height="28" fill="#8db1c5"/>
<rect x="237" y="665" width="28" height="28" fill="#7ba4bb"/>
<rect x="265" y="665" width="28" height="28" fill="#6d9ab4"/>
<rect x="293" y="665" width="28" height="28" fill="#6292ae"/>
<rect x="321" y="665" width="28" height="28" fill="#598ca9"/>
<rect x="349" y="665" width="28" height="28" fill="#336f94"/>
<rect x="377" y="665" width="28" height="28" fill="#2b688f"/>
<rect x="405" y="665" width="27" height="28" fill="#26648b"/>
<rect x="432" y="665" width="28" height="28" fill="#226089"/>
<rect x="460" y="665" width="28" height="28" fill="#205e87"/>
<rect x="42" y="693" width="28" height="28" fill="#ffffff"/>
<rect x="70" y="693" width="28" height="28" fill="#ffffff"/>
<rect x="98" y="693" width="28" height="28" fill="#fdfefe"/>
<rect x="126" y="693" width="28" height="28" fill="#fcfdfd"/>
<rect x="154" y="693" width="28" height="28" fill="#c9d9e3"/>
<rect x="182" y="693" width="27" height="28" fill="#a6c1d1"/>
<rect x="209" y="693" width="28" height="28" fill="#8db0c4"/>
<rect x="237" y="693" width="28" height="28" fill="#7aa4bb"/>
<rect x="265" y="693" width="28" height="28" fill="#6c9ab4"/>
<rect x="293" y="693" width="28" height="28" fill="#6292ae"/>
<rect x="321" y="693" width="28" height="28" fill="#598caa"/>
<rect x="349" y="693" width="28" height="28" fill="#346f94"/>
<rect x="377" y="693" width="28" height="28" fill="#2b688f"/>
<rect x="405" y="693" width="27" height="28" fill="#26648c"/>
<rect x="432" y="693" width="28" height="28" fill="#226089"/>
<rect x="460" y="693" width="28" height="28" fill="#205e87"/>
<rect x="42" y="721" width="28" height="27" fill="#ffffff"/>
<rect x="70" y="721" width="28" height="27" fill="#fefeff"/>
<rect x="98" y="721" width="28" height="27" fill="#fefefe"/>
<rect x="126" y="721" width="28" height="27" fill="#f9fbfc"/>
<rect x="154" y="721" width="28" height="27" fill="#c6d7e1"/>
<rect x="182" y="721" width="27" height="27" fill="#a2bfcf"/>
<rect x="209" y="721" width="28" height="27" fill="#89aec3"/>
<rect x="237" y="721" width="28" height="27" fill="#78a2ba"/>
<rect x="265" y="721" width="28" height="27" fill="#6c9ab4"/>
<rect x="293" y="721" width="28" height="27" fill="#6293ae"/>
<rect x="321" y="721" width="28" height="27" fill="#598ca9"/>
<rect x="349" y="721" width="28" height="27" fill="#347094"/>
<rect x="377" y="721" width="28" height="27" fill="#2b688f"/>
<rect x="405" y="721" width="27" height="27" fill="#26648c"/>
<rect x="432" y="721" width="28" height="27" fill="#226089"/>
<rect x="460" y="721" width="28" height="27" fill="#1f5e87"/>
<rect x="42" y="748" width="28" height="28" fill="#fefeff"/>
<rect x="70" y="748" width="28" height="28" fill="#ffffff"/>
<rect x="98" y="748" width="28" height="28" fill="#fefefe"/>
<rect x="126" y="748" width="28" height="28" fill="#fdfdfe"/>
<rect x="154" y="748" width="28" height="28" fill="#cadae3"/>
<rect x="182" y="748" width="27" height="28" fill="#a7c2d2"/>
<rect x="209" y="748" width="28" height="28" fill="#8eb1c5"/>
<rect x="237" y="748" width="28" height="28" fill="#7ba4bc"/>
<rect x="265" y="748" width="28" height="28" fill="#6e9bb5"/>
<rect x="293" y="748" width="28" height="28" fill="#6394af"/>
<rect x="321" y="748" width="28" height="28" fill="#5a8daa"/>
<rect x="349" y="748" width="28" height="28" fill="#347094"/>
<rect x="377" y="748" width="28" height="28" fill="#2c698f"/>
<rect x="405" y="748" width="27" height="28" fill="#27658c"/>
<rect x="432" y="748" width="28" height="28" fill="#23618a"/>
<rect x="460" y="748" width="28" height="28" fill="#205e87"/>
<text class="v k" x="55.7" y="459.65" fill="#1c1c1c">0.009</text>
<text class="v k" x="83.61" y="459.65" fill="#1c1c1c">0.008</text>
<text class="v k" x="111.52" y="459.65" fill="#1c1c1c">0.012</text>
<text class="v k" x="139.43" y="459.65" fill="#1c1c1c">0.015</text>
<text class="v k" x="167.34" y="459.65" fill="#1c1c1c">0.213</text>
<text class="v" x="195.25" y="459.65" fill="#ffffff">0.340</text>
<text class="v" x="223.16" y="459.65" fill="#ffffff">0.437</text>
<text class="v" x="251.07" y="459.65" fill="#ffffff">0.505</text>
<text class="v" x="278.98" y="459.65" fill="#ffffff">0.564</text>
<text class="v" x="306.89" y="459.65" fill="#ffffff">0.615</text>
<text class="v" x="334.8" y="459.65" fill="#ffffff">0.648</text>
<text class="v" x="362.71" y="459.65" fill="#ffffff">0.801</text>
<text class="v" x="390.62" y="460.45" fill="#ffffff">0.841</text>
<text class="v" x="418.53" y="459.65" fill="#ffffff">0.865</text>
<text class="v" x="446.44" y="459.65" fill="#ffffff">0.884</text>
<text class="v" x="474.35" y="459.65" fill="#ffffff">0.898</text>
<text class="v k" x="55.7" y="487.44" fill="#1c1c1c">0.000</text>
<text class="v k" x="83.61" y="487.44" fill="#1c1c1c">0.001</text>
<text class="v k" x="111.52" y="487.44" fill="#1c1c1c">0.006</text>
<text class="v k" x="139.43" y="487.44" fill="#1c1c1c">0.008</text>
<text class="v k" x="167.34" y="487.44" fill="#1c1c1c">0.207</text>
<text class="v" x="195.25" y="487.44" fill="#ffffff">0.337</text>
<text class="v" x="223.16" y="487.44" fill="#ffffff">0.432</text>
<text class="v" x="251.07" y="487.44" fill="#ffffff">0.503</text>
<text class="v" x="278.98" y="487.44" fill="#ffffff">0.562</text>
<text class="v" x="306.89" y="487.44" fill="#ffffff">0.604</text>
<text class="v" x="334.8" y="487.44" fill="#ffffff">0.640</text>
<text class="v" x="362.71" y="487.44" fill="#ffffff">0.801</text>
<text class="v" x="390.62" y="488.24" fill="#ffffff">0.840</text>
<text class="v" x="418.53" y="487.44" fill="#ffffff">0.866</text>
<text class="v" x="446.44" y="487.44" fill="#ffffff">0.884</text>
<text class="v" x="474.35" y="487.44" fill="#ffffff">0.897</text>
<text class="v k" x="55.7" y="515.23" fill="#1c1c1c">0.003</text>
<text class="v k" x="83.61" y="515.23" fill="#1c1c1c">0.010</text>
<text class="v k" x="111.52" y="515.23" fill="#1c1c1c">0.012</text>
<text class="v k" x="139.43" y="515.23" fill="#1c1c1c">0.012</text>
<text class="v k" x="167.34" y="515.23" fill="#1c1c1c">0.208</text>
<text class="v" x="195.25" y="515.23" fill="#ffffff">0.338</text>
<text class="v" x="223.16" y="515.23" fill="#ffffff">0.434</text>
<text class="v" x="251.07" y="515.23" fill="#ffffff">0.504</text>
<text class="v" x="278.98" y="515.23" fill="#ffffff">0.557</text>
<text class="v" x="306.89" y="515.23" fill="#ffffff">0.603</text>
<text class="v" x="334.8" y="515.23" fill="#ffffff">0637</text>
<text class="v" x="362.71" y="515.23" fill="#ffffff">0.798</text>
<text class="v" x="390.62" y="516.03" fill="#ffffff">0.838</text>
<text class="v" x="418.53" y="515.23" fill="#ffffff">0.864</text>
<text class="v" x="446.44" y="515.23" fill="#ffffff">0.881</text>
<text class="v" x="474.35" y="515.23" fill="#ffffff">0.895</text>
<text class="v k" x="55.7" y="543.02" fill="#1c1c1c">0.007</text>
<text class="v k" x="83.61" y="543.02" fill="#1c1c1c">0.008</text>
<text class="v k" x="111.52" y="543.02" fill="#1c1c1c">0.007</text>
<text class="v k" x="139.43" y="543.02" fill="#1c1c1c">0.013</text>
<text class="v k" x="167.34" y="543.02" fill="#1c1c1c">0.206</text>
<text class="v" x="195.25" y="543.02" fill="#ffffff">0.338</text>
<text class="v" x="223.16" y="543.02" fill="#ffffff">0.435</text>
<text class="v" x="251.07" y="543.02" fill="#ffffff">0.506</text>
<text class="v" x="278.98" y="543.02" fill="#ffffff">0.559</text>
<text class="v" x="306.89" y="543.02" fill="#ffffff">0.604</text>
<text class="v" x="334.8" y="543.02" fill="#ffffff">0.637</text>
<text class="v" x="362.71" y="543.02" fill="#ffffff">0.798</text>
<text class="v" x="390.62" y="543.82" fill="#ffffff">0.837</text>
<text class="v" x="418.53" y="543.02" fill="#ffffff">0.863</text>
<text class="v" x="446.44" y="543.02" fill="#ffffff">0.881</text>
<text class="v" x="474.35" y="543.02" fill="#ffffff">0.895</text>
<text class="v k" x="55.7" y="570.81" fill="#1c1c1c">0.000</text>
<text class="v k" x="83.61" y="570.81" fill="#1c1c1c">0.003</text>
<text class="v k" x="111.52" y="570.81" fill="#1c1c1c">0.007</text>
<text class="v k" x="139.43" y="570.81" fill="#1c1c1c">0.010</text>
<text class="v k" x="167.34" y="570.81" fill="#1c1c1c">0.206</text>
<text class="v" x="195.25" y="570.81" fill="#ffffff">0.340</text>
<text class="v" x="223.16" y="570.81" fill="#ffffff">0.437</text>
<text class="v" x="251.07" y="570.81" fill="#ffffff">0.507</text>
<text class="v" x="278.98" y="570.81" fill="#ffffff">0.562</text>
<text class="v" x="306.89" y="570.81" fill="#ffffff">0.605</text>
<text class="v" x="334.8" y="570.81" fill="#ffffff">0.638</text>
<text class="v" x="362.71" y="570.81" fill="#ffffff">0.800</text>
<text class="v" x="390.62" y="571.61" fill="#ffffff">0.838</text>
<text class="v" x="418.53" y="570.81" fill="#ffffff">0.864</text>
<text class="v" x="446.44" y="570.81" fill="#ffffff">0.883</text>
<text class="v" x="474.35" y="570.81" fill="#ffffff">0.895</text>
<text class="v k" x="55.7" y="598.6" fill="#1c1c1c">0.000</text>
<text class="v k" x="83.61" y="598.6" fill="#1c1c1c">0.007</text>
<text class="v k" x="111.52" y="598.6" fill="#1c1c1c">0.015</text>
<text class="v k" x="139.43" y="598.6" fill="#1c1c1c">0.042</text>
<text class="v k" x="167.34" y="598.6" fill="#1c1c1c">0.206</text>
<text class="v" x="195.25" y="598.6" fill="#ffffff">0.343</text>
<text class="v" x="223.16" y="598.6" fill="#ffffff">0.438</text>
<text class="v" x="251.07" y="598.6" fill="#ffffff">0.510</text>
<text class="v" x="278.98" y="598.6" fill="#ffffff">0.563</text>
<text class="v" x="306.89" y="598.6" fill="#ffffff">0.602</text>
<text class="v" x="334.8" y="598.6" fill="#ffffff">0.640</text>
<text class="v" x="362.71" y="598.6" fill="#ffffff">0.798</text>
<text class="v" x="390.62" y="599.4" fill="#ffffff">0.838</text>
<text class="v" x="418.53" y="598.6" fill="#ffffff">0.863</text>
<text class="v" x="446.44" y="598.6" fill="#ffffff">0.882</text>
<text class="v" x="474.35" y="598.6" fill="#ffffff">0.895</text>
<text class="v k" x="55.7" y="626.39" fill="#1c1c1c">0.001</text>
<text class="v k" x="83.61" y="626.39" fill="#1c1c1c">0.005</text>
<text class="v k" x="111.52" y="626.39" fill="#1c1c1c">0.007</text>
<text class="v k" x="139.43" y="626.39" fill="#1c1c1c">0.014</text>
<text class="v k" x="167.34" y="626.39" fill="#1c1c1c">0.222</text>
<text class="v" x="195.25" y="626.39" fill="#ffffff">0.342</text>
<text class="v" x="223.16" y="626.39" fill="#ffffff">0.436</text>
<text class="v" x="251.07" y="626.39" fill="#ffffff">0.507</text>
<text class="v" x="278.98" y="626.39" fill="#ffffff">0.559</text>
<text class="v" x="306.89" y="626.39" fill="#ffffff">0.602</text>
<text class="v" x="334.8" y="626.39" fill="#ffffff">0.636</text>
<text class="v" x="362.71" y="626.39" fill="#ffffff">0.799</text>
<text class="v" x="390.62" y="627.19" fill="#ffffff">0.838</text>
<text class="v" x="418.53" y="626.39" fill="#ffffff">0.863</text>
<text class="v" x="446.44" y="626.39" fill="#ffffff">0.882</text>
<text class="v" x="474.35" y="626.39" fill="#ffffff">0.897</text>
<text class="v k" x="55.7" y="654.18" fill="#1c1c1c">0.000</text>
<text class="v k" x="83.61" y="654.18" fill="#1c1c1c">0.006</text>
<text class="v k" x="111.52" y="654.18" fill="#1c1c1c">0.017</text>
<text class="v k" x="139.43" y="654.18" fill="#1c1c1c">0.022</text>
<text class="v k" x="167.34" y="654.18" fill="#1c1c1c">0.210</text>
<text class="v" x="195.25" y="654.18" fill="#ffffff">0.340</text>
<text class="v" x="223.16" y="654.18" fill="#ffffff">0.432</text>
<text class="v" x="251.07" y="654.18" fill="#ffffff">0.504</text>
<text class="v" x="278.98" y="654.18" fill="#ffffff">0.557</text>
<text class="v" x="306.89" y="654.18" fill="#ffffff">0.602</text>
<text class="v" x="334.8" y="654.18" fill="#ffffff">0.639</text>
<text class="v" x="362.71" y="654.18" fill="#ffffff">0.799</text>
<text class="v" x="390.62" y="654.98" fill="#ffffff">0.837</text>
<text class="v" x="418.53" y="654.18" fill="#ffffff">0.864</text>
<text class="v" x="446.44" y="654.18" fill="#ffffff">0.883</text>
<text class="v" x="474.35" y="654.18" fill="#ffffff">0.896</text>
<text class="v k" x="55.7" y="681.97" fill="#1c1c1c">0.000</text>
<text class="v k" x="83.61" y="681.97" fill="#1c1c1c">0.000</text>
<text class="v k" x="111.52" y="681.97" fill="#1c1c1c">0.009</text>
<text class="v k" x="139.43" y="681.97" fill="#1c1c1c">0.011</text>
<text class="v k" x="167.34" y="681.97" fill="#1c1c1c">0.209</text>
<text class="v" x="195.25" y="681.97" fill="#ffffff">0.342</text>
<text class="v" x="223.16" y="681.97" fill="#ffffff">0.435</text>
<text class="v" x="251.07" y="681.97" fill="#ffffff">0.505</text>
<text class="v" x="278.98" y="681.97" fill="#ffffff">0.559</text>
<text class="v" x="306.89" y="681.97" fill="#ffffff">0.603</text>
<text class="v" x="334.8" y="681.97" fill="#ffffff">0.639</text>
<text class="v" x="362.71" y="681.97" fill="#ffffff">0.799</text>
<text class="v" x="390.62" y="682.77" fill="#ffffff">0.837</text>
<text class="v" x="418.53" y="681.97" fill="#ffffff">0.862</text>
<text class="v" x="446.44" y="681.97" fill="#ffffff">0.881</text>
<text class="v" x="474.35" y="681.97" fill="#ffffff">0.895</text>
<text class="v k" x="55.7" y="709.76" fill="#1c1c1c">0.000</text>
<text class="v k" x="83.61" y="709.76" fill="#1c1c1c">0.000</text>
<text class="v k" x="111.52" y="709.76" fill="#1c1c1c">0.007</text>
<text class="v k" x="139.43" y="709.76" fill="#1c1c1c">0.012</text>
<text class="v k" x="167.34" y="709.76" fill="#1c1c1c">0.211</text>
<text class="v" x="195.25" y="709.76" fill="#ffffff">0.343</text>
<text class="v" x="223.16" y="709.76" fill="#ffffff">0.437</text>
<text class="v" x="251.07" y="709.76" fill="#ffffff">0.506</text>
<text class="v" x="278.98" y="709.76" fill="#ffffff">0.562</text>
<text class="v" x="306.89" y="709.76" fill="#ffffff">0.603</text>
<text class="v" x="334.8" y="709.76" fill="#ffffff">0.638</text>
<text class="v" x="362.71" y="709.76" fill="#ffffff">0.798</text>
<text class="v" x="390.62" y="710.56" fill="#ffffff">0.837</text>
<text class="v" x="418.53" y="709.76" fill="#ffffff">0.861</text>
<text class="v" x="446.44" y="709.76" fill="#ffffff">0.883</text>
<text class="v" x="474.35" y="709.76" fill="#ffffff">0.894</text>
<text class="v k" x="55.7" y="737.55" fill="#1c1c1c">0.001</text>
<text class="v k" x="83.61" y="737.55" fill="#1c1c1c">0.003</text>
<text class="v k" x="111.52" y="737.55" fill="#1c1c1c">0.004</text>
<text class="v k" x="139.43" y="737.55" fill="#1c1c1c">0.024</text>
<text class="v k" x="167.34" y="737.55" fill="#1c1c1c">0.223</text>
<text class="v" x="195.25" y="737.55" fill="#ffffff">0.356</text>
<text class="v" x="223.16" y="737.55" fill="#ffffff">0.449</text>
<text class="v" x="251.07" y="737.55" fill="#ffffff">0.515</text>
<text class="v" x="278.98" y="737.55" fill="#ffffff">0.563</text>
<text class="v" x="306.89" y="737.55" fill="#ffffff">0.602</text>
<text class="v" x="334.8" y="737.55" fill="#ffffff">0.639</text>
<text class="v" x="362.71" y="737.55" fill="#ffffff">0.795</text>
<text class="v" x="390.62" y="738.35" fill="#ffffff">0.837</text>
<text class="v" x="418.53" y="737.55" fill="#ffffff">0.861</text>
<text class="v" x="446.44" y="737.55" fill="#ffffff">0.881</text>
<text class="v" x="474.35" y="737.55" fill="#ffffff">0.896</text>
<text class="v k" x="55.7" y="765.34" fill="#1c1c1c">0.003</text>
<text class="v k" x="83.61" y="765.34" fill="#1c1c1c">0.002</text>
<text class="v k" x="111.52" y="765.34" fill="#1c1c1c">0.006</text>
<text class="v k" x="139.43" y="765.34" fill="#1c1c1c">0.009</text>
<text class="v k" x="167.34" y="765.34" fill="#1c1c1c">0.207</text>
<text class="v" x="195.25" y="765.34" fill="#ffffff">0.339</text>
<text class="v" x="223.16" y="765.34" fill="#ffffff">0.431</text>
<text class="v" x="251.07" y="765.34" fill="#ffffff">0.503</text>
<text class="v" x="278.98" y="765.34" fill="#ffffff">0.553</text>
<text class="v" x="306.89" y="765.34" fill="#ffffff">0.597</text>
<text class="v" x="334.8" y="765.34" fill="#ffffff">0.635</text>
<text class="v" x="362.71" y="765.34" fill="#ffffff">0.797</text>
<text class="v" x="390.62" y="766.14" fill="#ffffff">0.833</text>
<text class="v" x="418.53" y="765.34" fill="#ffffff">0.858</text>
<text class="v" x="446.44" y="765.34" fill="#ffffff">0.876</text>
<text class="v" x="474.35" y="765.34" fill="#ffffff">0.892</text>
<rect x="69.42" y="771.8" width="1.3" height="4.2" fill="#111"/>
<rect x="97.3" y="771.8" width="1.3" height="4.2" fill="#111"/>
<rect x="125.17" y="771.8" width="1.3" height="4.2" fill="#111"/>
<rect x="153.05" y="771.8" width="1.3" height="4.2" fill="#111"/>
<rect x="180.92" y="771.8" width="1.3" height="4.2" fill="#111"/>
<rect x="208.8" y="771.8" width="1.3" height="4.2" fill="#111"/>
<rect x="236.67" y="771.8" width="1.3" height="4.2" fill="#111"/>
<rect x="264.55" y="771.8" width="1.3" height="4.2" fill="#111"/>
<rect x="292.43" y="771.8" width="1.3" height="4.2" fill="#111"/>
<rect x="320.3" y="771.8" width="1.3" height="4.2" fill="#111"/>
<rect x="348.18" y="771.8" width="1.3" height="4.2" fill="#111"/>
<rect x="376.05" y="771.8" width="1.3" height="4.2" fill="#111"/>
<rect x="403.93" y="771.8" width="1.3" height="4.2" fill="#111"/>
<rect x="431.8" y="771.8" width="1.3" height="4.2" fill="#111"/>
<rect x="459.68" y="771.8" width="1.3" height="4.2" fill="#111"/>
<rect x="42.2" y="470.65" width="4" height="1.3" fill="#111"/>
<rect x="42.2" y="498.35" width="4" height="1.3" fill="#111"/>
<rect x="42.2" y="526.05" width="4" height="1.3" fill="#111"/>
<rect x="42.2" y="553.75" width="4" height="1.3" fill="#111"/>
<rect x="42.2" y="581.45" width="4" height="1.3" fill="#111"/>
<rect x="42.2" y="609.15" width="4" height="1.3" fill="#111"/>
<rect x="42.2" y="636.85" width="4" height="1.3" fill="#111"/>
<rect x="42.2" y="664.55" width="4" height="1.3" fill="#111"/>
<rect x="42.2" y="692.25" width="4" height="1.3" fill="#111"/>
<rect x="42.2" y="719.95" width="4" height="1.3" fill="#111"/>
<rect x="42.2" y="747.65" width="4" height="1.3" fill="#111"/>
<rect x="41.4" y="443.05" width="447.5" height="1.1" fill="#0d0d0d"/>
<rect x="41.4" y="775.25" width="447.5" height="1.5" fill="#0d0d0d"/>
<rect x="41.5" y="443.05" width="1.7" height="333.7" fill="#0d0d0d"/>
<rect x="487.5" y="443.05" width="1.4" height="333.7" fill="#0d0d0d"/>
<rect x="320" y="443.05" width="1.45" height="332.2" fill="#f8f5f5"/>
<text class="t" x="56.14" y="792.8">1</text>
<text class="t" x="84.01" y="792.8">2</text>
<text class="t" x="111.89" y="792.8">3</text>
<text class="t" x="139.76" y="792.8">4</text>
<text class="t" x="167.64" y="792.8">5</text>
<text class="t" x="195.51" y="792.8">6</text>
<text class="t" x="223.39" y="792.8">7</text>
<text class="t" x="251.26" y="792.8">8</text>
<text class="t" x="279.14" y="792.8">9</text>
<text class="t" x="307.01" y="792.8">10</text>
<text class="t" x="334.89" y="792.8">15</text>
<text class="t" x="362.76" y="792.8">20</text>
<text class="t" x="390.64" y="793.6">25</text>
<text class="t" x="418.51" y="792.8">30</text>
<text class="t" x="446.39" y="792.8">35</text>
<text class="t" x="474.26" y="792.8">40</text>
<text class="t" x="25.3" y="459.55">11</text>
<text class="t" x="25.3" y="487.34">10</text>
<text class="t" x="25.3" y="515.13">9</text>
<text class="t" x="25.3" y="542.92">8</text>
<text class="t" x="25.3" y="570.71">7</text>
<text class="t" x="25.3" y="598.5">6</text>
<text class="t" x="25.3" y="626.29">5</text>
<text class="t" x="25.3" y="654.08">4</text>
<text class="t" x="25.3" y="681.87">3</text>
<text class="t" x="25.3" y="709.66">2</text>
<text class="t" x="25.3" y="737.45">1</text>
<text class="t" x="25.3" y="765.24">0</text>
<text class="ax" x="267.5" y="809.8">The First k Right Singular Vectors</text>
<text class="ax ay" transform="translate(16.3 606.8) rotate(-90) scale(0.93 1)" x="0" y="0">Layer</text>
<rect x="503.2" y="443.6" width="14.4" height="332.4" fill="url(#cb)" stroke="#0d0d0d" stroke-width="1.3"/>
<rect x="517.6" y="484.55" width="3.6" height="1.2" fill="#111"/>
<text class="c" x="527.1" y="487.95">0.875</text>
<rect x="517.6" y="567.65" width="3.6" height="1.2" fill="#111"/>
<text class="c" x="527.1" y="571.05">0.625</text>
<rect x="517.6" y="650.75" width="3.6" height="1.2" fill="#111"/>
<text class="c" x="527.1" y="654.15">0.375</text>
<rect x="517.6" y="733.85" width="3.6" height="1.2" fill="#111"/>
<text class="c" x="527.1" y="737.25">0.125</text>
<text class="cap" x="278.8" y="838.6">(<tspan font-weight="bold">b</tspan>)</text>
</g>
</svg>
</body>
</html>
